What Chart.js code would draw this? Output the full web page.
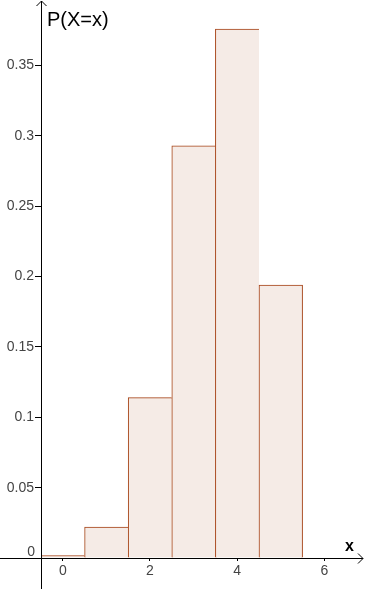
<!DOCTYPE html>
<html>
<head>
<meta charset="utf-8">
<script src="https://cdn.jsdelivr.net/npm/chart.js@4.4.1/dist/chart.umd.min.js"></script>
<style>
  html, body { margin: 0; padding: 0; background: #fff; }
  #wrap { width: 374px; height: 589px; }
</style>
</head>
<body>
<div id="wrap"><canvas id="histChart" width="374" height="589"></canvas></div>
<script>
// binomial histogram values
const xValues = [0, 1, 2, 3, 4, 5];
const probabilities = [0.0018, 0.022, 0.114, 0.293, 0.376, 0.194];

const xTicks = [0, 2, 4, 6];
const xTickLabels = ['0', '2', '4', '6'];
const yTicks = [0, 0.05, 0.1, 0.15, 0.2, 0.25, 0.3, 0.35];
const yTickLabels = ['0', '0.05', '0.1', '0.15', '0.2', '0.25', '0.3', '0.35'];

const tickFont = { family: '"Liberation Sans", Arial, sans-serif', size: 14 };

// axis lines with arrow heads, axis titles, origin label
const axesDecor = {
  id: 'axesDecor',
  afterDatasetsDraw (chart) {
    const { ctx, chartArea } = chart;
    const ax = Math.round(chartArea.left) + 0.5;
    const ay = Math.round(chartArea.bottom) + 0.5;

    ctx.save();
    ctx.strokeStyle = '#000';
    ctx.lineWidth = 1;

    // x axis + arrow
    const xEnd = 363;
    ctx.beginPath();
    ctx.moveTo(0, ay);
    ctx.lineTo(xEnd, ay);
    ctx.moveTo(xEnd - 5, ay - 5);
    ctx.lineTo(xEnd, ay);
    ctx.lineTo(xEnd - 5, ay + 5);
    ctx.stroke();

    // y axis + arrow
    const yEnd = 1;
    ctx.beginPath();
    ctx.moveTo(ax, chart.height);
    ctx.lineTo(ax, yEnd);
    ctx.moveTo(ax - 5, yEnd + 5);
    ctx.lineTo(ax, yEnd);
    ctx.lineTo(ax + 5, yEnd + 5);
    ctx.stroke();

    // origin label sits above the x axis
    ctx.fillStyle = '#444';
    ctx.font = '14px "Liberation Sans", Arial, sans-serif';
    ctx.textAlign = 'right';
    ctx.textBaseline = 'alphabetic';
    ctx.fillText(yTickLabels[0], 35, ay - 3);

    // axis titles
    ctx.fillStyle = '#000';
    ctx.textAlign = 'left';
    ctx.font = '20px "Liberation Sans", Arial, sans-serif';
    ctx.fillText('P(X=x)', 47, 26);
    ctx.font = 'bold 16px "Liberation Sans", Arial, sans-serif';
    ctx.fillText('x', 345, 551);
    ctx.restore();
  }
};

const ctx = document.getElementById('histChart').getContext('2d');

const lastIdx = xValues.length - 1;

new Chart(ctx, {
  type: 'bar',
  data: {
    datasets: [{
      data: xValues.map((v, i) => ({ x: v, y: probabilities[i] })),
      backgroundColor: 'rgb(245, 235, 230)',
      borderColor: 'rgb(165, 65, 20)',
      borderWidth: c => ({ top: 1, left: 1, bottom: 0, right: c.dataIndex === lastIdx ? 1 : 0 }),
      borderSkipped: false,
      barPercentage: 1,
      categoryPercentage: 1
    }]
  },
  options: {
    responsive: false,
    animation: false,
    devicePixelRatio: 1,
    layout: { padding: 0 },
    plugins: {
      legend: { display: false },
      tooltip: { enabled: false }
    },
    scales: {
      x: {
        type: 'linear',
        position: 'bottom',
        min: -0.5,
        max: 7.138,
        offset: false,
        afterBuildTicks: s => { s.ticks = xTicks.map(v => ({ value: v })); },
        afterFit: s => { s.height = 31; s.paddingLeft = 0; s.paddingRight = 0; },
        border: { display: false },
        grid: { offset: false, drawOnChartArea: false, tickLength: 3, color: '#000' },
        ticks: {
          autoSkip: false,
          maxRotation: 0,
          padding: 2,
          color: '#444',
          font: tickFont,
          callback: (v, i) => xTickLabels[i]
        }
      },
      y: {
        type: 'linear',
        position: 'left',
        min: 0,
        max: 0.39659,
        afterBuildTicks: s => { s.ticks = yTicks.map(v => ({ value: v })); },
        afterFit: s => { s.width = 41; s.paddingTop = 0; s.paddingBottom = 0; },
        border: { display: false },
        grid: { drawOnChartArea: false, tickLength: 6, color: c => c.tick && c.tick.value === 0 ? 'rgba(0,0,0,0)' : '#000' },
        ticks: {
          autoSkip: false,
          padding: 1,
          color: '#444',
          font: tickFont,
          callback: (v, i) => v === 0 ? '' : yTickLabels[i]
        }
      }
    }
  },
  plugins: [axesDecor]
});
</script>
</body>
</html>
